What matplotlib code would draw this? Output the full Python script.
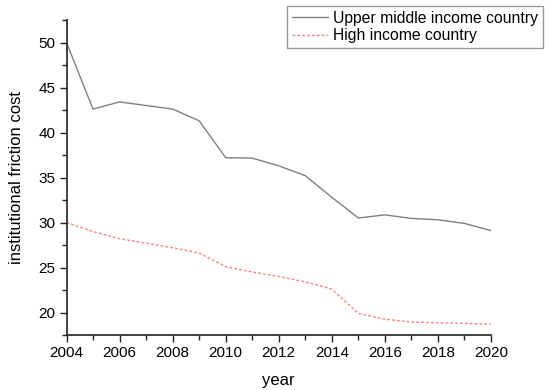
import matplotlib.pyplot as plt
from matplotlib.ticker import MultipleLocator

plt.rcParams['font.family'] = ['Liberation Sans', 'DejaVu Sans']

years = list(range(2004, 2021))
upper_middle = [50.0, 42.6, 43.4, 43.0, 42.6, 41.3, 37.2, 37.15, 36.3, 35.2,
                32.8, 30.5, 30.85, 30.45, 30.3, 29.9, 29.1]
high_income = [30.0, 29.0, 28.2, 27.7, 27.2, 26.6, 25.1, 24.5, 24.0, 23.4,
               22.6, 19.9, 19.25, 18.95, 18.85, 18.8, 18.7]

fig = plt.figure(figsize=(5.5, 3.9), dpi=100)
ax = fig.add_axes([66.5 / 550, 1 - 335 / 390, (491 - 66.5) / 550, (335 - 20) / 390])

ax.plot(years, upper_middle, color='#808080', lw=1.0, label='Upper middle income country')
ax.plot(years, high_income, color='#ff8080', lw=1.0, ls=(0, (2, 1.5)), label='High income country')

ax.set_xlim(2004, 2020)
ax.set_ylim(17.5, 52.5)
ax.xaxis.set_major_locator(MultipleLocator(2))
ax.xaxis.set_minor_locator(MultipleLocator(1))
ax.yaxis.set_major_locator(MultipleLocator(5))
ax.yaxis.set_minor_locator(MultipleLocator(2.5))
ax.tick_params(which='major', length=5, width=1, labelsize=11, color='#222222', pad=3)
ax.tick_params(which='minor', length=3.5, width=1, color='#222222')

for s in ['top', 'right']:
    ax.spines[s].set_visible(False)
for s in ['left', 'bottom']:
    ax.spines[s].set_linewidth(1.2)
    ax.spines[s].set_color('#222222')

ax.set_xlabel('year', fontsize=12, labelpad=9)
ax.set_ylabel('institutional friction cost', fontsize=12, labelpad=10)

leg = fig.legend(loc='upper right', bbox_to_anchor=(543 / 550, 1 - 6 / 390), fontsize=11.3,
                 frameon=True, fancybox=False, borderpad=0.3, labelspacing=0.15,
                 handlelength=2.3, handletextpad=0.35, borderaxespad=0)
leg.get_frame().set_edgecolor('#808080')
leg.get_frame().set_linewidth(1.0)

fig.savefig('out.png', dpi=100)
